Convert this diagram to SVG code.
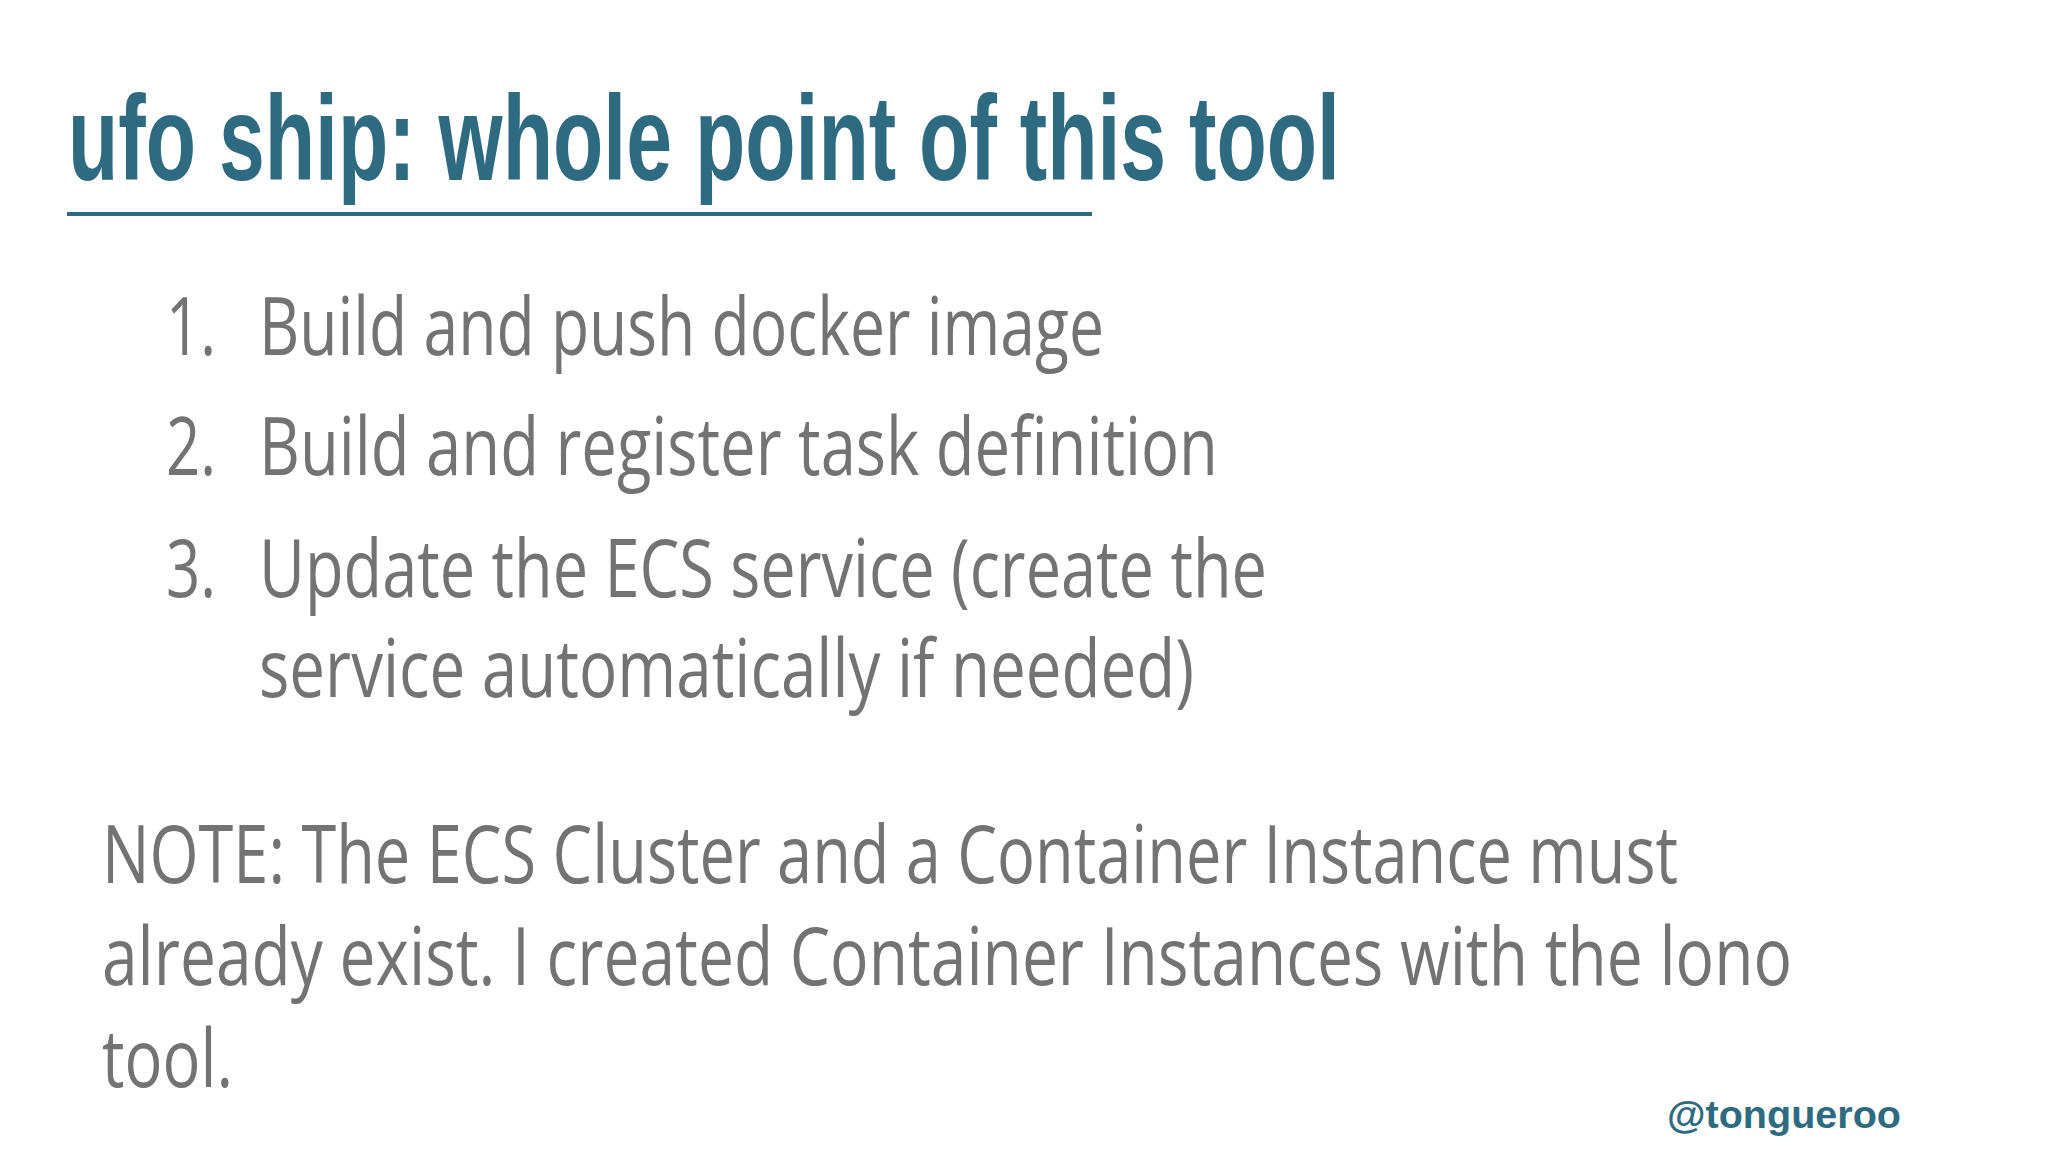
<svg xmlns="http://www.w3.org/2000/svg" width="2048" height="1152" viewBox="0 0 2048 1152">
<style>
.t{font-family:"Liberation Sans",Arial,sans-serif;fill:#2e6b80}
.b{font-family:"Open Sans","Liberation Sans",sans-serif;fill:#737373;font-size:80px}
</style>
<rect width="2048" height="1152" fill="#fff"/>
<g id="title">
<text class="t" x="68" y="180" font-size="120" font-weight="bold" textLength="1272" lengthAdjust="spacingAndGlyphs">ufo ship: whole point of this tool</text>
<line x1="67" y1="214" x2="1092" y2="214" stroke="#2e6b80" stroke-width="4"/>
</g>
<g id="list" class="b">
<text x="166" y="355" textLength="50" lengthAdjust="spacingAndGlyphs">1.</text>
<text x="259" y="355" textLength="845" lengthAdjust="spacingAndGlyphs">Build and push docker image</text>
<text x="166" y="475" textLength="50" lengthAdjust="spacingAndGlyphs">2.</text>
<text x="259" y="475" textLength="959" lengthAdjust="spacingAndGlyphs">Build and register task definition</text>
<text x="166" y="597" textLength="50" lengthAdjust="spacingAndGlyphs">3.</text>
<text x="259" y="597" textLength="1008" lengthAdjust="spacingAndGlyphs">Update the ECS service (create the</text>
<text x="259" y="697" textLength="935" lengthAdjust="spacingAndGlyphs">service automatically if needed)</text>
</g>
<g id="note" class="b">
<text x="102" y="883" textLength="1576" lengthAdjust="spacingAndGlyphs">NOTE: The ECS Cluster and a Container Instance must</text>
<text x="102" y="985" textLength="1690" lengthAdjust="spacingAndGlyphs">already exist.  I created Container Instances with the lono</text>
<text x="102" y="1087" textLength="131" lengthAdjust="spacingAndGlyphs">tool.</text>
</g>
<g id="handle">
<text class="t" x="1667" y="1128" font-size="38" font-weight="bold" textLength="234" lengthAdjust="spacingAndGlyphs">@tongueroo</text>
</g>
</svg>
